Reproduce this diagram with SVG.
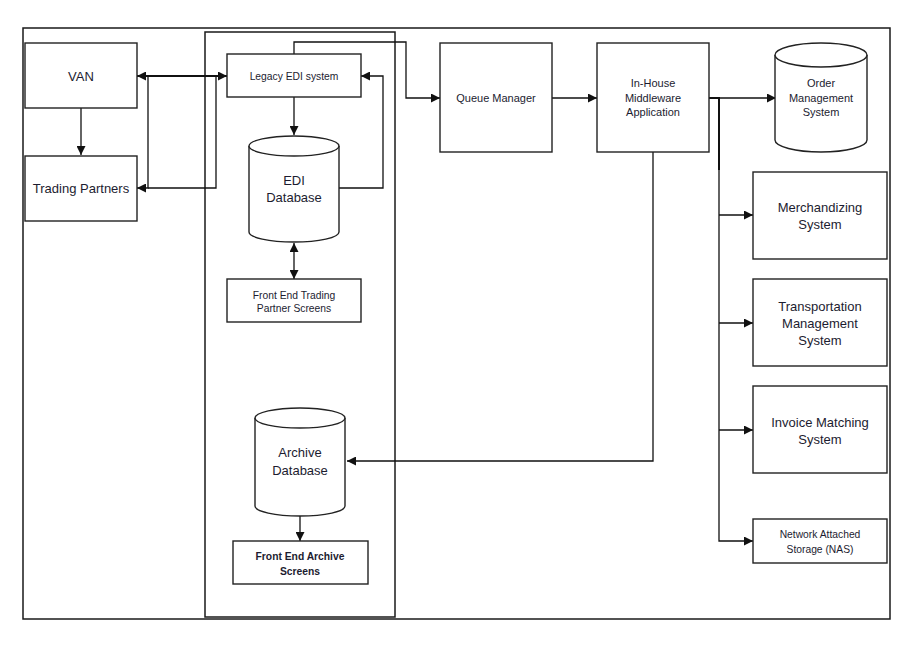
<svg xmlns="http://www.w3.org/2000/svg" width="915" height="645" viewBox="0 0 915 645">
<defs>
<style>
.frame{fill:none;stroke:#1a1a1a;stroke-width:1.5}
.box{fill:#fff;stroke:#222;stroke-width:1.4}
.cyl{fill:#fff;stroke:#222;stroke-width:1.4}
.ln{fill:none;stroke:#111;stroke-width:1.3}
.thick{fill:none;stroke:#111;stroke-width:2}
text{font-family:"Liberation Sans",Arial,sans-serif;fill:#1c1c30;text-anchor:middle}
.t13{font-size:13px}
.t11{font-size:11px}
.t10{font-size:10.3px}
</style>
<marker id="ah" viewBox="0 0 10 10" refX="10" refY="5" markerWidth="9" markerHeight="9" markerUnits="userSpaceOnUse" orient="auto-start-reverse">
<path d="M0,0 L10,5 L0,10 z" fill="#111"/>
</marker>
</defs>
<rect width="915" height="645" fill="#fff"/>
<rect class="frame" x="23" y="28" width="867" height="591"/>
<rect id="legacy-panel" class="frame" x="205" y="32" width="190" height="585"/>

<g id="connectors">
<line class="ln" x1="81" y1="108" x2="81" y2="155" marker-end="url(#ah)"/>
<line class="thick" x1="137" y1="76" x2="227" y2="76" marker-start="url(#ah)" marker-end="url(#ah)"/>
<polyline class="ln" points="148,76 148,188 137,188" marker-end="url(#ah)"/>
<polyline class="ln" points="148,188 216,188 216,76"/>
<line class="ln" x1="294" y1="97" x2="294" y2="135" marker-end="url(#ah)"/>
<polyline class="ln" points="339,188 383,188 383,76 361,76" marker-end="url(#ah)"/>
<line class="ln" x1="294" y1="243" x2="294" y2="279" marker-start="url(#ah)" marker-end="url(#ah)"/>
<polyline class="ln" points="294,54 294,42 406,42 406,98 440,98" marker-end="url(#ah)"/>
<line class="ln" x1="552" y1="98" x2="597" y2="98" marker-end="url(#ah)"/>
<line class="thick" x1="709" y1="98" x2="719" y2="98"/>
<line class="ln" x1="719" y1="98" x2="776" y2="98" marker-end="url(#ah)"/>
<line class="thick" x1="719" y1="97" x2="719" y2="170"/>
<polyline class="ln" points="719,170 719,541 753,541" marker-end="url(#ah)"/>
<line class="ln" x1="719" y1="215" x2="753" y2="215" marker-end="url(#ah)"/>
<line class="ln" x1="719" y1="323" x2="753" y2="323" marker-end="url(#ah)"/>
<line class="ln" x1="719" y1="430" x2="753" y2="430" marker-end="url(#ah)"/>
<polyline class="ln" points="653,151 653,461 347,461" marker-end="url(#ah)"/>
<line class="ln" x1="300" y1="516" x2="300" y2="541" marker-end="url(#ah)"/>
</g>

<g id="van">
<rect class="box" x="25" y="43" width="112" height="65"/>
<text class="t13" x="81" y="80.5">VAN</text>
</g>
<g id="trading-partners">
<rect class="box" x="25" y="156" width="112" height="65"/>
<text class="t13" x="81" y="193">Trading Partners</text>
</g>
<g id="legacy-edi">
<rect class="box" x="227" y="54" width="134" height="43"/>
<text class="t10" x="294" y="80">Legacy EDI system</text>
</g>
<g id="edi-database">
<path class="cyl" d="M249,146 A45,10 0 0 1 339,146 L339,232 A45,10 0 0 1 249,232 Z"/>
<path class="cyl" d="M249,146 A45,10 0 0 0 339,146"/>
<text class="t13" x="294" y="185">EDI</text>
<text class="t13" x="294" y="202">Database</text>
</g>
<g id="front-end-trading">
<rect class="box" x="227" y="279" width="134" height="43"/>
<text class="t10" x="294" y="299">Front End Trading</text>
<text class="t10" x="294" y="312">Partner Screens</text>
</g>
<g id="archive-database">
<path class="cyl" d="M255,418 A45,10 0 0 1 345,418 L345,506 A45,10 0 0 1 255,506 Z"/>
<path class="cyl" d="M255,418 A45,10 0 0 0 345,418"/>
<text class="t13" x="300" y="457">Archive</text>
<text class="t13" x="300" y="475">Database</text>
</g>
<g id="front-end-archive">
<rect class="box" x="233" y="541" width="135" height="43"/>
<text class="t10" x="300" y="560" font-weight="bold">Front End Archive</text>
<text class="t10" x="300" y="575" font-weight="bold">Screens</text>
</g>
<g id="queue-manager">
<rect class="box" x="440" y="43" width="112" height="109"/>
<text class="t11" x="496" y="102">Queue Manager</text>
</g>
<g id="middleware">
<rect class="box" x="597" y="43" width="112" height="109"/>
<text class="t11" x="653" y="87">In-House</text>
<text class="t11" x="653" y="102">Middleware</text>
<text class="t11" x="653" y="116">Application</text>
</g>
<g id="order-management">
<path class="cyl" d="M775,55 A46,12 0 0 1 867,55 L867,140 A46,12 0 0 1 775,140 Z"/>
<path class="cyl" d="M775,55 A46,12 0 0 0 867,55"/>
<text class="t11" x="821" y="87">Order</text>
<text class="t11" x="821" y="102">Management</text>
<text class="t11" x="821" y="116">System</text>
</g>
<g id="merchandizing">
<rect class="box" x="753" y="172" width="134" height="87"/>
<text class="t13" x="820" y="212">Merchandizing</text>
<text class="t13" x="820" y="229">System</text>
</g>
<g id="transportation">
<rect class="box" x="753" y="279" width="134" height="87"/>
<text class="t13" x="820" y="311">Transportation</text>
<text class="t13" x="820" y="328">Management</text>
<text class="t13" x="820" y="345">System</text>
</g>
<g id="invoice-matching">
<rect class="box" x="753" y="386" width="134" height="87"/>
<text class="t13" x="820" y="427">Invoice Matching</text>
<text class="t13" x="820" y="444">System</text>
</g>
<g id="nas">
<rect class="box" x="753" y="519" width="134" height="44"/>
<text class="t10" x="820" y="538">Network Attached</text>
<text class="t10" x="820" y="553">Storage (NAS)</text>
</g>
</svg>
